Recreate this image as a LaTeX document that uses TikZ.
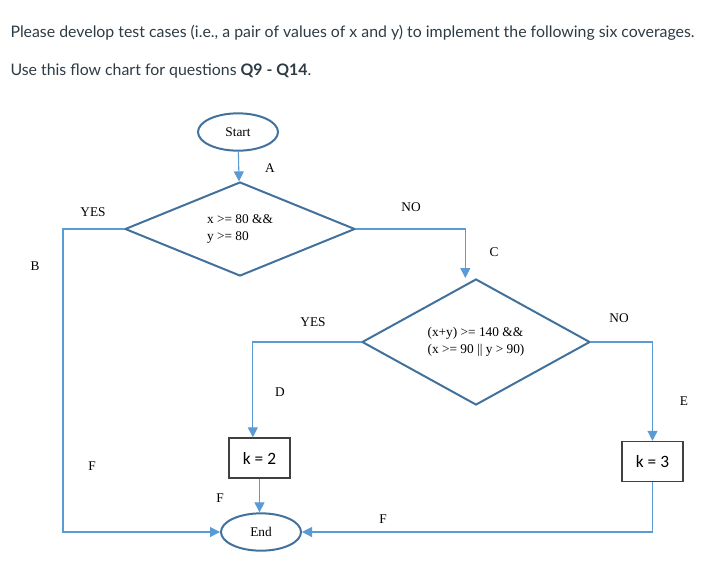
\documentclass[tikz,border=0pt]{standalone}
\usepackage{fontspec}
\setmainfont{Liberation Serif}
\newfontfamily\headfont{Lato}
\newfontfamily\boxfont{Carlito}
\usetikzlibrary{shapes.geometric,arrows.meta}

\definecolor{flowblue}{HTML}{5B9BD5}
\definecolor{shapeblue}{HTML}{41719C}
\definecolor{boxgray}{HTML}{404040}
\definecolor{headgray}{HTML}{2D3B45}

\tikzset{every picture/.style={line width=0.75pt}}
\tikzset{
  term/.style={ellipse,draw=shapeblue,line width=1.5pt,minimum width=60pt,minimum height=28pt,inner sep=0pt,font=\fontsize{10}{12}\selectfont},
  cond/.style={diamond,draw=shapeblue,line width=1.5pt,aspect=2.4,inner sep=0pt,align=left,font=\fontsize{10}{13}\selectfont},
  proc/.style={rectangle,draw=boxgray,line width=1.1pt,minimum width=45.5pt,minimum height=30pt,inner sep=0pt,font=\boxfont\fontsize{13}{15}\selectfont},
  flow/.style={draw=flowblue,line width=0.8pt,-{Triangle[width=7.5pt,length=7.5pt]}},
  lbl/.style={inner sep=0.75pt,font=\fontsize{10}{12}\selectfont},
  headtxt/.style={anchor=west,inner sep=0pt,font=\headfont\fontsize{11.9}{14}\selectfont,text=headgray}
}

\begin{document}
\begin{tikzpicture}[x=0.75pt,y=0.75pt,yscale=-1,xscale=1]
\useasboundingbox (0,0) rectangle (716,587);

% Header text
\node[headtxt] (head1) at (10,33) {Please develop test cases (i.e., a pair of values of x and y) to implement the following six coverages.};
\node[headtxt] (head2) at (10,71) {Use this flow chart for questions \textbf{Q9 - Q14}.};

% Terminals
\node[term] (start) at (238,132) {Start};
\node[term] (end) at (261,532) {End};

% Decisions
\node[cond,minimum width=172.5pt,minimum height=70.5pt] (d1) at (240,229) {x >= 80 \&\&\\y >= 80};
\node[cond,minimum width=171pt,minimum height=94.5pt] (d2) at (476,342) {(x+y) >= 140 \&\&\\(x >= 90 || y > 90)};

% Assignments
\node[proc] (k2) at (259.5,458) {k = 2};
\node[proc] (k3) at (652.5,461.5) {k = 3};

% Bends
\coordinate (bleft) at (63,400);

% Connectors
\draw[flow] (start) -- (d1);
\draw[flow] (d1.west) -| (bleft) |- (end.west);
\draw[flow] (d1.east) -| ([xshift=-8pt]d2.north);
\draw[flow] (d2.west) -| ([xshift=-5pt]k2.north);
\draw[flow] (k2.south) -- (k2.south |- end.north);
\draw[flow] (d2.east) -| (k3.north);
\draw[flow] (k3.south) |- (end.east);

% Labels
\node[lbl] (la) at (270,168) {A};
\node[lbl] (lyes1) at (93,212) {YES};
\node[lbl] (lb) at (35,266) {B};
\node[lbl] (lf1) at (92,466) {F};
\node[lbl] (lno1) at (411,207) {NO};
\node[lbl] (lc) at (494,252) {C};
\node[lbl] (lyes2) at (313,322) {YES};
\node[lbl] (ld) at (280,392) {D};
\node[lbl] (lno2) at (619,318) {NO};
\node[lbl] (le) at (684,401) {E};
\node[lbl] (lf2) at (220,498) {F};
\node[lbl] (lf3) at (383,519) {F};

\end{tikzpicture}
\end{document}
